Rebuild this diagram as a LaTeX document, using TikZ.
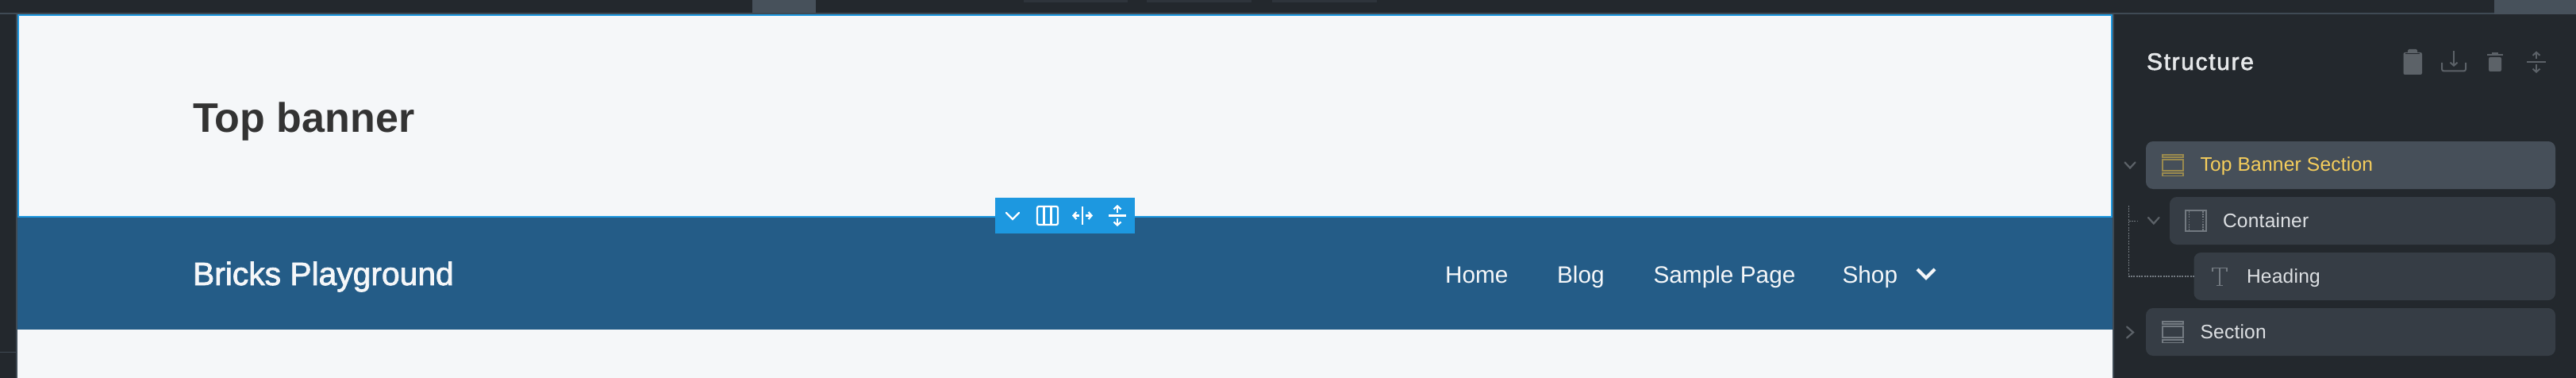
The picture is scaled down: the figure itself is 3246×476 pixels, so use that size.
\documentclass[tikz,border=0pt]{standalone}
\usepackage{fontspec}
\setmainfont{Liberation Sans}
\newfontfamily\spacedfont[LetterSpace=5.5]{Liberation Sans}
\newfontfamily\rowfont[LetterSpace=0.8]{Liberation Sans}
\newcommand{\heavier}[2]{\special{pdf:code 2 Tr #1 w}#2\special{pdf:code 0 Tr}}
\usetikzlibrary{arrows.meta}
\definecolor{panelbg}{HTML}{23282D}
\definecolor{edgegray}{HTML}{3F4A54}
\definecolor{tabgray}{HTML}{47515B}
\definecolor{pillgray}{HTML}{2E343B}
\definecolor{canvasbg}{HTML}{F5F7F9}
\definecolor{headerblue}{HTML}{245C87}
\definecolor{accentblue}{HTML}{1D98E0}
\definecolor{rowsel}{HTML}{464F59}
\definecolor{rowgray}{HTML}{363D45}
\definecolor{gold}{HTML}{F6CE5C}
\definecolor{golddim}{HTML}{9A8A4E}
\definecolor{icongray}{HTML}{5C6268}
\definecolor{rowicon}{HTML}{737A81}
\definecolor{rowtext}{HTML}{DDE0E3}
\definecolor{titletext}{HTML}{E6E8EA}
\definecolor{headingtext}{HTML}{333333}
\tikzset{
  x=1pt,y=-1pt,
  lbl/.style={anchor=base west,inner sep=0pt,outer sep=0pt},
  rowlbl/.style={lbl,font=\fontsize{24.6}{25}\selectfont\rowfont},
  navlbl/.style={lbl,font=\fontsize{29.8}{30}\selectfont,text=canvasbg},
  rowbox/.style={anchor=north west,inner sep=0pt,outer sep=0pt,minimum height=60pt,rounded corners=9pt,fill=rowgray},
  chev/.style={draw=#1,line width=2.2pt,line cap=round,line join=miter},
  whiteicon/.style={draw=white,line width=2.2pt},
  whitearrow/.style={draw=white,line width=2.2pt,-{Straight Barb[length=4pt,width=9pt,line width=2.2pt]}},
  greyicon/.style={draw=icongray,line width=2pt},
  greyarrow/.style={draw=icongray,line width=2pt,-{Straight Barb[length=4pt,width=9pt,line width=2pt]}},
  tree/.style={draw=rowicon,line width=1.5pt,dash pattern=on 2pt off 1.4pt},
}
\begin{document}
\begin{tikzpicture}
\useasboundingbox (0,0) rectangle (3246,476);
% chrome
\fill[panelbg] (0,0) rectangle (3246,476);
\fill[edgegray] (0,16) rectangle (3246,18);
\fill[edgegray] (19.5,18) rectangle (21.5,476);
\fill[edgegray] (0,442.5) rectangle (19.5,444);
\fill[edgegray] (2662,18) rectangle (2664,476);
\fill[tabgray] (948,0) rectangle (1028,16);
\fill[tabgray] (3142.5,0) rectangle (3246,18);
\fill[pillgray] (1290,0) rectangle (1421,3);
\fill[pillgray] (1445,0) rectangle (1577,3);
\fill[pillgray] (1603,0) rectangle (1735,3);
% canvas
\fill[canvasbg] (21.5,18) rectangle (2662,476);
\fill[headerblue] (21.5,274) rectangle (2662,415);
\draw[accentblue,line width=2.2pt] (22.6,19.1) rectangle (2661,273);
\node[lbl,font=\fontsize{52}{52}\selectfont\bfseries,text=headingtext] (topbanner) at (243,166) {Top banner};
\node[lbl,font=\fontsize{40.8}{41}\selectfont,text=canvasbg] (brand) at (243,359) {\heavier{0.8}{Bricks Playground}};
\node[navlbl] (home) at (1821,356) {Home};
\node[navlbl] (blog) at (1962,356) {Blog};
\node[navlbl] (sample) at (2083.5,356) {Sample Page};
\node[navlbl] (shop) at (2321.5,356) {Shop};
\draw[draw=canvasbg,line width=4pt] (2416,339) -- (2427,350) -- (2438,339);
% toolbar
\fill[accentblue] (1254,249) rectangle (1430,294);
\draw[whiteicon,line cap=round] (1268,268) -- (1276,276) -- (1284,268);
\draw[whiteicon,rounded corners=2pt] (1307,260) rectangle (1333,283);
\draw[whiteicon] (1315.5,260) -- (1315.5,283) (1324.5,260) -- (1324.5,283);
\draw[whiteicon] (1364,260) -- (1364,283);
\draw[whitearrow] (1360,271.5) -- (1351,271.5);
\draw[whitearrow] (1368,271.5) -- (1377,271.5);
\draw[whiteicon] (1397,271.5) -- (1419,271.5);
\draw[whitearrow] (1408,268) -- (1408,258);
\draw[whitearrow] (1408,275) -- (1408,285);
% panel header
\node[lbl,font=\fontsize{30}{30}\selectfont\spacedfont,text=titletext] (structure) at (2705,88) {\heavier{0.6}{Structure}};
\fill[icongray,rounded corners=2pt] (3028.5,66) rectangle (3052,94);
\fill[icongray,rounded corners=1.5pt] (3034,62) rectangle (3046,68);
\draw[panelbg,line width=1pt] (3031,67.5) -- (3049,67.5);
\draw[greyicon,rounded corners=2.5pt] (3077,79) -- (3077,89.5) -- (3107,89.5) -- (3107,79);
\draw[greyarrow] (3092,64) -- (3092,84);
\fill[icongray] (3134,68) rectangle (3154,70.5);
\fill[icongray] (3140,66) rectangle (3148,68);
\fill[icongray,rounded corners=2pt] (3136,72) rectangle (3152,90);
\draw[greyicon] (3184,78) -- (3208,78);
\draw[greyarrow] (3196,74) -- (3196,64.5);
\draw[greyarrow] (3196,81.5) -- (3196,92);
% rows
\node[rowbox,fill=rowsel,minimum width=516pt] (rowtop) at (2704,178) {};
\node[rowbox,minimum width=486pt] (rowcontainer) at (2734,248) {};
\node[rowbox,minimum width=455.5pt] (rowheading) at (2764.5,318) {};
\node[rowbox,minimum width=516pt] (rowsection) at (2704,388) {};
% row labels
\node[rowlbl,text=gold] (ltop) at (2772.5,215.5) {Top Banner Section};
\node[rowlbl,text=rowtext] (lcontainer) at (2801,286) {Container};
\node[rowlbl,text=rowtext] (lheading) at (2831,356) {Heading};
\node[rowlbl,text=rowtext] (lsection) at (2772.5,426) {Section};
% row icons
\draw[golddim,line width=1.6pt] (2724.8,194.8) rectangle (2750.7,198.2) (2724.8,201) rectangle (2750.7,215) (2724.8,217.8) rectangle (2750.7,221.4);
\draw[rowicon,line width=1.6pt] (2724.8,404.8) rectangle (2750.7,408.2) (2724.8,411) rectangle (2750.7,425) (2724.8,427.8) rectangle (2750.7,431.4);
\draw[rowicon,line width=1.8pt] (2754,265) rectangle (2780,291);
\draw[rowicon,line width=1.4pt,dash pattern=on 1.6pt off 1.6pt] (2758.7,266) -- (2758.7,290) (2775.8,266) -- (2775.8,290);
\draw[rowicon,line width=1.3pt] (2788,342) -- (2788,337.8) -- (2806,337.8) -- (2806,342) (2797,338) -- (2797,359.5) (2793,359.5) -- (2801,359.5);
% chevrons
\draw[chev=icongray] (2677.5,204.5) -- (2684,211.5) -- (2690.5,204.5);
\draw[chev=icongray] (2707,274) -- (2713.8,281.5) -- (2720.5,274);
\draw[chev=icongray] (2680,411.5) -- (2688,418.5) -- (2680,425.5);
% tree connectors
\coordinate (treetop) at (2682.5,258.5);
\coordinate (treeelbow) at (2682.5,348);
\coordinate (treebranch) at (2682.5,278.7);
\coordinate (treetip) at (2693,278.7);
\draw[tree] (treetop) -- (treeelbow) -- (rowheading.west);
\draw[tree] (treebranch) -- (treetip);
\end{tikzpicture}
\end{document}
